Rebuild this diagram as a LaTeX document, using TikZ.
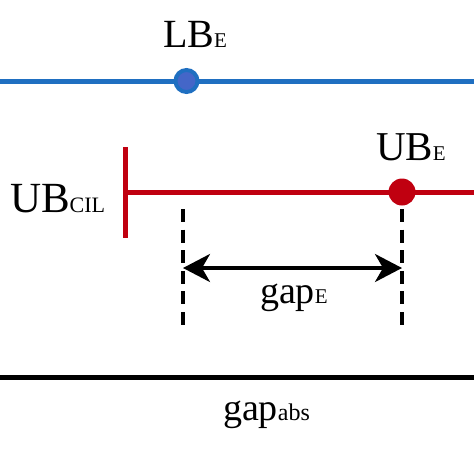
\documentclass[tikz,border=0pt]{standalone}
\usepackage{fontspec}
\setmainfont{Liberation Serif}
\usetikzlibrary{arrows.meta}
\definecolor{lineblue}{HTML}{1F6FC1}
\definecolor{dotblue}{HTML}{4466C8}
\definecolor{linered}{HTML}{C00010}
\tikzset{
  lbl/.style={anchor=base west, inner sep=0pt, outer sep=0pt},
  dotted line/.style={line width=3.5pt, dash pattern=on 13pt off 7.6pt},
}
\newcommand{\bigt}[2]{{\fontsize{#1}{#1}\selectfont #2}}
\begin{document}
\begin{tikzpicture}[x=1pt,y=-1pt]
\useasboundingbox (0,0) rectangle (474,474);
% blue line
\coordinate (bl) at (0,81);
\coordinate (br) at (474,81);
\draw[lineblue, line width=5pt] (bl) -- (br);
\node[circle, fill=dotblue, draw=lineblue, line width=4pt, minimum size=22pt, inner sep=0pt] (lbdot) at (186.5,81) {};
\node[lbl] (lbe) at (163,47) {\bigt{40}{LB}\bigt{21}{E}};
% red line
\coordinate (rt) at (125.5,147);
\coordinate (rb) at (125.5,238);
\coordinate (rm) at (125.5,192);
\coordinate (rr) at (474,192);
\draw[linered, line width=4.5pt] (rt) -- (rb);
\draw[linered, line width=5pt] (rm) -- (rr);
\node[circle, fill=linered, minimum size=27pt, inner sep=0pt] (ubdot) at (402,192) {};
\node[lbl] (ube) at (376,160) {\bigt{41}{UB}\bigt{21}{E}};
\node[lbl] (ubcil) at (10,212) {\bigt{43}{UB}\bigt{22}{CIL}};
% dashed lines
\coordinate (d1t) at (183,209);
\coordinate (d1b) at (183,325);
\coordinate (d2t) at (402,209);
\coordinate (d2b) at (402,325);
\draw[dotted line] (d1t) -- (d1b);
\draw[dotted line] (d2t) -- (d2b);
% arrow
\coordinate (a1) at (183,268);
\coordinate (a2) at (402,268);
\draw[line width=3.5pt, {Stealth[length=27pt,width=28pt,inset=8pt]}-{Stealth[length=27pt,width=28pt,inset=8pt]}] (a1) -- (a2);
\node[lbl] (gape) at (260,303) {\bigt{38}{gap}\bigt{21}{E}};
% black line
\coordinate (kl) at (0,377.5);
\coordinate (kr) at (474,377.5);
\draw[black, line width=5pt] (kl) -- (kr);
\node[lbl] (gapabs) at (223,420) {\bigt{38}{gap}\bigt{24}{abs}};
\end{tikzpicture}
\end{document}
